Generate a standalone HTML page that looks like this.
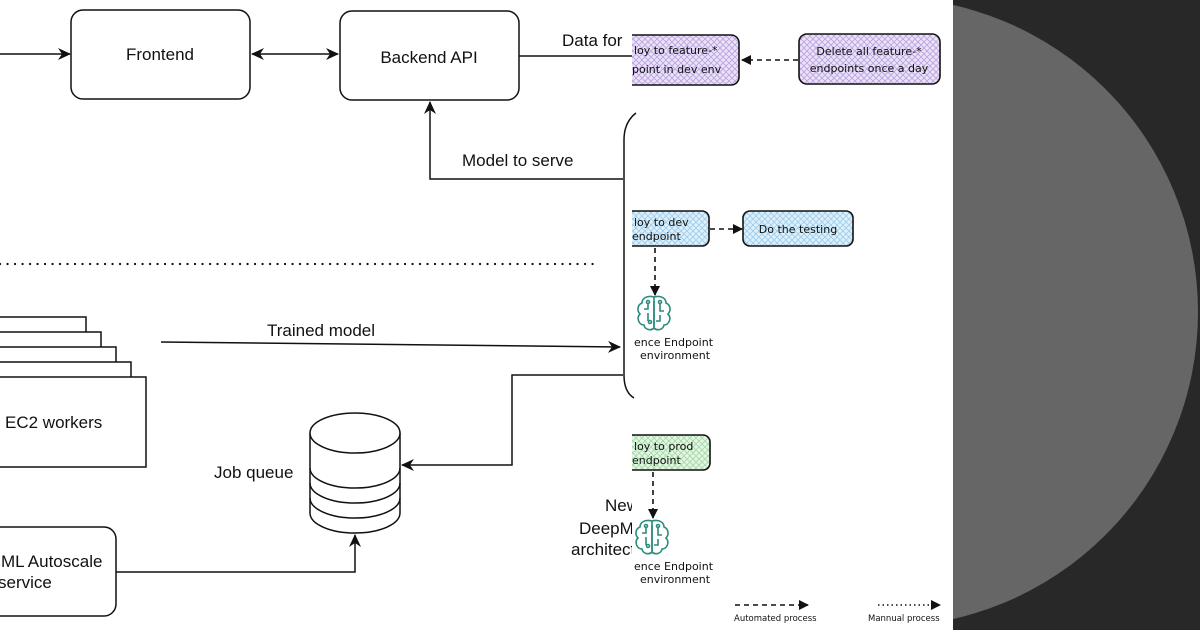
<!DOCTYPE html>
<html><head><meta charset="utf-8"><style>
html,body{margin:0;padding:0;width:1200px;height:630px;overflow:hidden;background:#282828}
svg{display:block}
.s{font-family:"Liberation Sans",Arial,sans-serif;fill:#111}
.h{font-family:"DejaVu Sans",sans-serif;fill:#111;font-size:11px}
</style></head><body>
<svg width="1200" height="630" viewBox="0 0 1200 630" xmlns="http://www.w3.org/2000/svg">
<defs>
<clipPath id="cr"><rect x="953" y="0" width="247" height="630"/></clipPath>
<clipPath id="cp"><rect x="632" y="0" width="321" height="630"/></clipPath>
<pattern id="hp" width="6" height="6" patternUnits="userSpaceOnUse"><rect width="6" height="6" fill="#ece2f8"/><path d="M0 0L6 6M6 0L0 6" stroke="#b7a2de" stroke-width="0.8"/></pattern>
<pattern id="hb" width="6" height="6" patternUnits="userSpaceOnUse"><rect width="6" height="6" fill="#def0fb"/><path d="M0 0L6 6M6 0L0 6" stroke="#9ccbe9" stroke-width="0.8"/></pattern>
<pattern id="hg" width="6" height="6" patternUnits="userSpaceOnUse"><rect width="6" height="6" fill="#e2f6e2"/><path d="M0 0L6 6M6 0L0 6" stroke="#a3d8a6" stroke-width="0.8"/></pattern>
<marker id="a" markerWidth="13" markerHeight="12" refX="12" refY="6" orient="auto" markerUnits="userSpaceOnUse"><path d="M0 0L13 6L0 12L4 6Z" fill="#111"/></marker>
<marker id="b" markerWidth="13" markerHeight="12" refX="1" refY="6" orient="auto" markerUnits="userSpaceOnUse"><path d="M13 0L0 6L13 12L9 6Z" fill="#111"/></marker>
<marker id="t" markerWidth="10" markerHeight="10" refX="9" refY="5" orient="auto" markerUnits="userSpaceOnUse"><path d="M0 0L10 5L0 10Z" fill="#111"/></marker>
<g id="brain" fill="none" stroke="#2a8c7a" stroke-width="1.6">
<path d="M18 2 C10 0 6 4 6 8 C1 10 1 16 4 19 C0 23 3 30 8 30 C9 35 15 36 18 33 Z"/>
<path d="M18 2 C26 0 30 4 30 8 C35 10 35 16 32 19 C36 23 33 30 28 30 C27 35 21 36 18 33"/>
<path d="M12 8v6h-4M12 18v8M24 8v8h4M24 20v6h-4M18 6v26"/>
<circle cx="12" cy="7" r="1.5"/><circle cx="24" cy="7" r="1.5"/><circle cx="14" cy="27" r="1.5"/>
</g>
</defs>
<rect x="0" y="0" width="953" height="630" fill="#fff"/>
<circle cx="883" cy="312" r="315" fill="#666" clip-path="url(#cr)"/>
<!-- left diagram -->
<g stroke="#111" stroke-width="1.5" fill="none">
<line x1="0" y1="54" x2="70" y2="54" marker-end="url(#a)"/>
<rect x="71" y="10" width="179" height="89" rx="12" fill="#fff"/>
<line x1="252" y1="54" x2="338" y2="54" marker-start="url(#b)" marker-end="url(#a)"/>
<rect x="340" y="11" width="179" height="89" rx="12" fill="#fff"/>
<line x1="519" y1="56" x2="632" y2="56"/>
<polyline points="623,179 430,179 430,102" marker-end="url(#a)"/>
<path d="M636 113 Q624 122 624 140 L624 375 Q624 392 634 398"/>
<line x1="161" y1="342" x2="620" y2="347" marker-end="url(#a)"/>
<polyline points="623,375 512,375 512,465 402,465" marker-end="url(#a)"/>
<polyline points="116,572 355,572 355,535" marker-end="url(#a)"/>
<rect x="-20" y="317" width="106" height="80" fill="#fff"/>
<rect x="-20" y="332" width="121" height="80" fill="#fff"/>
<rect x="-20" y="347" width="136" height="80" fill="#fff"/>
<rect x="-20" y="362" width="151" height="80" fill="#fff"/>
<rect x="-20" y="377" width="166" height="90" fill="#fff"/>
<rect x="-20" y="527" width="136" height="89" rx="12" fill="#fff"/>
<path d="M310 433 L310 513 A45 20 0 0 0 400 513 L400 433" fill="#fff"/>
<ellipse cx="355" cy="433" rx="45" ry="20" fill="#fff"/>
<path d="M310 468 A45 20 0 0 0 400 468M310 483 A45 20 0 0 0 400 483M310 498 A45 20 0 0 0 400 498"/>
</g>
<line x1="0" y1="264" x2="600" y2="264" stroke="#111" stroke-width="2.2" stroke-dasharray="0.1 7.4" stroke-linecap="round"/>
<g class="s" font-size="17">
<text x="160" y="60" text-anchor="middle">Frontend</text>
<text x="429" y="63" text-anchor="middle">Backend API</text>
<text x="562" y="46">Data for</text>
<text x="462" y="166">Model to serve</text>
<text x="267" y="336">Trained model</text>
<text x="5" y="428">EC2 workers</text>
<text x="214" y="478">Job queue</text>
<text x="1" y="567">ML Autoscale</text>
<text x="-2" y="588">service</text>
<text x="605" y="511">New</text>
<text x="579" y="534">DeepML</text>
<text x="571" y="555">architecture</text>
</g>
<!-- right panel -->
<g clip-path="url(#cp)">
<rect x="632" y="0" width="321" height="630" fill="#fff"/>
<g stroke="#111" stroke-width="1.6">
<rect x="600" y="35" width="139" height="50" rx="8" fill="url(#hp)"/>
<rect x="799" y="34" width="141" height="50" rx="8" fill="url(#hp)"/>
<rect x="600" y="211" width="109" height="35" rx="7" fill="url(#hb)"/>
<rect x="743" y="211" width="110" height="35" rx="7" fill="url(#hb)"/>
<rect x="600" y="435" width="110" height="35" rx="7" fill="url(#hg)"/>
</g>
<g stroke="#111" stroke-width="1.6" fill="none" stroke-dasharray="5 4">
<line x1="798" y1="60" x2="742" y2="60" marker-end="url(#t)"/>
<line x1="710" y1="229" x2="742" y2="229" marker-end="url(#t)"/>
<line x1="655" y1="248" x2="655" y2="295" marker-end="url(#t)"/>
<line x1="653" y1="472" x2="653" y2="518" marker-end="url(#t)"/>
<line x1="735" y1="605" x2="808" y2="605" marker-end="url(#t)"/>
</g>
<line x1="878" y1="605" x2="940" y2="605" stroke="#111" stroke-width="1.6" stroke-dasharray="1.5 3" marker-end="url(#t)"/>
<use href="#brain" x="636" y="295"/>
<use href="#brain" x="634" y="519"/>
<g class="h">
<text x="634" y="54">loy to feature-*</text>
<text x="632" y="73">point in dev env</text>
<text x="869" y="55" text-anchor="middle">Delete all feature-*</text>
<text x="869" y="72" text-anchor="middle">endpoints once a day</text>
<text x="634" y="226">loy to dev</text>
<text x="632" y="240">endpoint</text>
<text x="798" y="233" text-anchor="middle">Do the testing</text>
<text x="634" y="450">loy to prod</text>
<text x="632" y="464">endpoint</text>
<text x="634" y="346">ence Endpoint</text>
<text x="640" y="359">environment</text>
<text x="634" y="570">ence Endpoint</text>
<text x="640" y="583">environment</text>
<text x="734" y="621" font-size="8.5">Automated process</text>
<text x="868" y="621" font-size="8.5">Mannual process</text>
</g>
<path d="M636 113 Q624 122 624 140 L624 375 Q624 392 634 398" stroke="#111" stroke-width="1.5" fill="none"/>
</g>
</svg>
</body></html>
